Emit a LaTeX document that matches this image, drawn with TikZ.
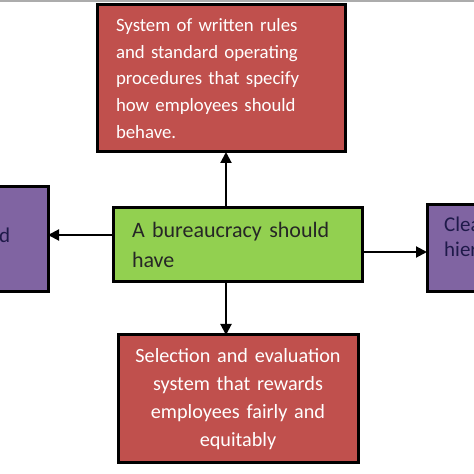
\documentclass[tikz,border=0pt]{standalone}
\usepackage{fontspec}
\setmainfont{Carlito}
\usetikzlibrary{arrows.meta}
\definecolor{boxred}{HTML}{C0504D}
\definecolor{boxgreen}{HTML}{92D050}
\definecolor{boxpurple}{HTML}{8064A2}
\definecolor{navytext}{HTML}{1F1A4A}
\begin{document}
\begin{tikzpicture}[x=1pt,y=1pt,
  boxstyle/.style={draw=black,line width=3pt,rectangle,inner sep=0pt,outer sep=0pt},
  redbox/.style={boxstyle,fill=boxred,text=white},
  conn/.style={line width=2pt,-{Triangle[length=11pt,width=11pt]}}]
\useasboundingbox (0,0) rectangle (474,474);
\clip (0,0) rectangle (474,474);
\fill[gray!65] (0,471.5) rectangle (474,474);
% top box
\node[redbox,minimum width=248pt,minimum height=147pt,text width=210pt,align=left,
  font=\fontsize{18.8}{26.8}\selectfont] (top) at (221,395.5)
  {System of written rules\\and standard operating\\procedures that specify\\how employees should\\behave.};
% centre box
\node[boxstyle,fill=boxgreen,text=black!85,minimum width=249pt,minimum height=74pt,text width=211pt,align=left,
  font=\fontsize{22}{30}\selectfont] (mid) at (237.5,229)
  {A bureaucracy should\\have};
% bottom box
\node[redbox,minimum width=240pt,minimum height=128pt,text width=234pt,align=center,
  font=\fontsize{20.2}{28}\selectfont] (bot) at (238,75)
  {Selection and evaluation\\system that rewards\\employees fairly and\\equitably};
% left box
\node[boxstyle,fill=boxpurple,minimum width=60pt,minimum height=105pt] (left) at (18,234.5) {};
\node[text=navytext,font=\fontsize{21}{30}\selectfont,anchor=base west,inner sep=0pt] (lefttext) at (-1,231) {d};
% right box
\node[boxstyle,fill=boxpurple,minimum width=60pt,minimum height=87pt,anchor=west] (right) at (427,225.5) {};
\node[text=navytext,font=\fontsize{21}{25}\selectfont,anchor=north west,align=left,inner sep=0pt] (righttext) at (444,257)
  {Clea\\hier};
% connectors
\coordinate (topfoot) at (226,192);
\draw[conn] (mid.north -| topfoot) -- (top.south -| topfoot);
\draw[conn] (mid.south -| topfoot) -- (bot.north -| topfoot);
\coordinate (ly) at (0,239);
\coordinate (ry) at (0,222);
\draw[conn] (mid.west |- ly) -- (left.east |- ly);
\draw[conn] (mid.east |- ry) -- (right.west |- ry);
\end{tikzpicture}
\end{document}
